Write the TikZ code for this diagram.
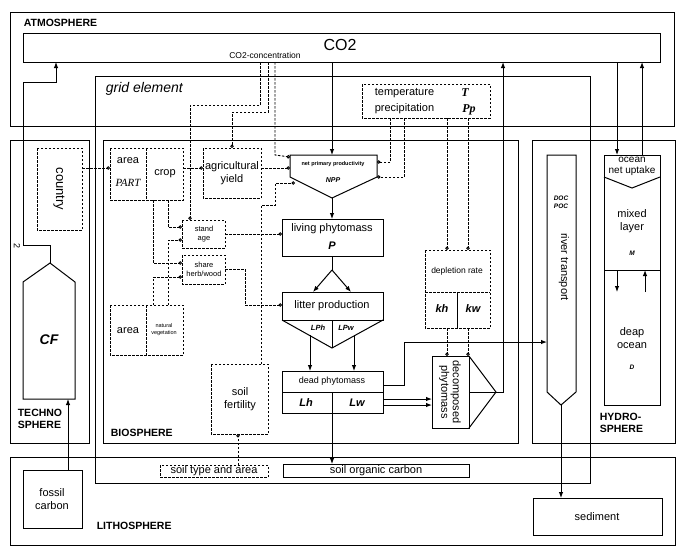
\documentclass[tikz,border=0pt]{standalone}
\usepackage{fontspec}
\setmainfont{Liberation Sans}
\newfontfamily\serifit{Liberation Serif}
\usetikzlibrary{arrows.meta}
\begin{document}
\begin{tikzpicture}[x=1pt,y=-1pt,line width=1pt,
  box/.style={draw},
  dbox/.style={draw,dashed,dash pattern=on 2.5pt off 1.5pt},
  dl/.style={dashed,dash pattern=on 2.5pt off 1.5pt,line width=0.9pt,-{Circle[open,length=3.5pt]}},
  ar/.style={-{Latex[length=6pt]}},
  hd/.style={font=\bfseries\fontsize{10.5}{12}\selectfont,anchor=west,align=left},
  t/.style={font=\fontsize{11}{13}\selectfont,align=center},
  ts/.style={font=\fontsize{7.5}{9}\selectfont,align=center},
  tb/.style={font=\bfseries\itshape\fontsize{8}{9}\selectfont}]
\useasboundingbox (0,0) rectangle (685,550);
% spheres
\draw (10,12) rectangle (674,126);
\node[hd] (atm) at (20,23) {ATMOSPHERE};
\draw (10,140) rectangle (89,443);
\draw (103,140) rectangle (518,443);
\draw (532,140) rectangle (675,443);
\draw (10,457) rectangle (675,545);
\draw (95,76) rectangle (590,483);
\node[font=\itshape\fontsize{14}{15}\selectfont,anchor=west] (ge) at (102,89) {grid element};
\node[hd] (tech) at (14,419) {TECHNO\\SPHERE};
\node[hd] (bio) at (107,433) {BIOSPHERE};
\node[hd] (hyd) at (596,423) {HYDRO-\\SPHERE};
\node[hd] (lith) at (93,526) {LITHOSPHERE};
% CO2
\draw (23,33) rectangle (660,62);
\node[font=\fontsize{16}{17}\selectfont] (co2) at (340,45) {CO2};
\node[font=\fontsize{8.5}{9}\selectfont] (co2c) at (265,55) {CO2-concentration};
\coordinate (co2b) at (332,62);
% techno
\draw[dbox] (37,148) rectangle (82,230);
\node[rotate=-90,font=\fontsize{13}{14}\selectfont] (country) at (59,189) {country};
\draw (23,282) -- (50,263) -- (75,282) -- (75,399) -- (23,399) -- cycle;
\node[font=\bfseries\itshape\fontsize{14}{15}\selectfont] (cf) at (49,340) {CF};
\draw (23,470) rectangle (82,528);
\node[t] (fossil) at (52,499) {fossil\\carbon};
\draw[ar] (68,470) -- (68,399);
\draw[ar] (50,263) -- (50,245) -- (23,245) -- (23,82) -- (56,82) -- (56,62);
\node[rotate=-90,font=\fontsize{9}{9}\selectfont] (two) at (17,246) {2};
% area crop
\draw[dbox] (110,148) rectangle (183,200);
\draw[dash pattern=on 2.5pt off 1.5pt,line width=0.9pt] (146,148) -- (146,200);
\node[t] (area1) at (128,161) {area};
\node[font=\serifit\itshape\fontsize{11}{12}\selectfont] (part) at (128,183) {PART};
\node[t] (crop) at (165,174) {crop};
\draw[dl] (82,168) -- (110,168);
% agricultural yield
\draw[dbox] (203,148) rectangle (261,198);
\node[t] (agri) at (232,173) {agricultural\\yield};
\draw[dl] (183,168) -- (203,168);
% NPP
\draw (290,155) -- (377,155) -- (377,177) -- (332,198) -- (290,177) -- cycle;
\node[font=\bfseries\fontsize{5.5}{6}\selectfont] (npp1) at (333,164) {net primary productivity};
\node[font=\bfseries\itshape\fontsize{7}{8}\selectfont] (npp) at (333,180) {NPP};
\draw[ar] (co2b) -- (332,155);
% living
\draw (282,219) rectangle (383,256);
\node[t] (liv) at (332,229) {living phytomass};
\node[font=\bfseries\itshape\fontsize{11}{12}\selectfont] (P) at (332,246) {P};
\draw[ar] (332,198) -- (332,219);
% litter
\draw (282,292) rectangle (383,320);
\draw (282,320) -- (332,348) -- (383,320);
\draw (332,320) -- (332,348);
\node[t] (lit) at (332,306) {litter production};
\node[font=\bfseries\itshape\fontsize{7.5}{8}\selectfont] (lph) at (318,328) {LPh};
\node[font=\bfseries\itshape\fontsize{7.5}{8}\selectfont] (lpw) at (346,328) {LPw};
\draw (332,256) -- (332,270);
\draw[ar] (332,270) -- (313,292);
\draw[ar] (332,270) -- (351,292);
% dead
\draw (282,371) rectangle (383,413);
\draw (282,392) -- (383,392);
\draw (332,392) -- (332,413);
\node[font=\fontsize{9}{10}\selectfont] (dead) at (332,381) {dead phytomass};
\node[font=\bfseries\itshape\fontsize{11}{12}\selectfont] (lh) at (306,403) {Lh};
\node[font=\bfseries\itshape\fontsize{11}{12}\selectfont] (lw) at (357,403) {Lw};
\draw[ar] (310,335) -- (310,371);
\draw[ar] (354,335) -- (354,371);
% soil
\draw[dbox] (160,465) rectangle (268,477);
\node[t] (stype) at (214,471) {soil type and area};
\draw (283,464) rectangle (469,477);
\node[t] (soc) at (376,470.5) {soil organic carbon};
\draw[ar] (332,392) -- (332,464);
\draw[dbox] (211,364) rectangle (268,434);
\node[t] (sfert) at (240,399) {soil\\fertility};
\draw[dl] (238,465) -- (238,434);
% stand age, share, natural
\draw[dbox] (182,220) rectangle (225,248);
\node[ts] (stand) at (204,234) {stand\\age};
\draw[dbox] (182,255) rectangle (225,284);
\node[ts] (share) at (204,269) {share\\herb/wood};
\draw[dbox] (110,305) rectangle (183,355);
\draw[dash pattern=on 2.5pt off 1.5pt,line width=0.9pt] (146,305) -- (146,355);
\node[t] (area2) at (128,331) {area};
\node[font=\fontsize{5.5}{7}\selectfont,align=center] (nat) at (164,330) {natural\\vegetation};
\draw[dl] (168,200) |- (182,227);
\draw[dl] (153,200) |- (182,263);
\draw[dl] (168,305) |- (182,240);
\draw[dl] (153,305) |- (182,277);
\draw[dl] (225,234) -- (282,234);
\draw[dl] (225,269) -- (245,269) -- (245,305) -- (282,305);
% CO2 concentration links
\draw[dl] (260,62) -- (260,105) -- (190,105) -- (190,220);
\draw[dl] (268,62) -- (268,112) -- (232,112) -- (232,148);
\draw[dl] (275,62) -- (275,155) -- (290,157);
\draw[dl] (261,168) -- (290,168);
\draw[dl] (261,364) -- (261,205) -- (275,205) -- (275,183) -- (295,183);
% temperature
\draw[dbox] (362,84) rectangle (490,118);
\node[t,anchor=west] (temp) at (371,93) {temperature};
\node[t,anchor=west] (prec) at (371,109) {precipitation};
\node[font=\serifit\bfseries\itshape\fontsize{12}{13}\selectfont] (T) at (465,93) {T};
\node[font=\serifit\bfseries\itshape\fontsize{12}{13}\selectfont] (Pp) at (469,110) {Pp};
\draw[dl] (390,118) -- (390,162) -- (377,162);
\draw[dl] (404,118) -- (404,177) -- (377,177);
\draw[dl] (447,118) -- (447,250);
\draw[dl] (468,118) -- (468,250);
% depletion
\draw[dbox] (425,250) rectangle (490,328);
\draw[dash pattern=on 2.5pt off 1.5pt,line width=0.9pt] (425,292) -- (490,292);
\draw (457,292) -- (457,328);
\node[font=\fontsize{8.5}{9}\selectfont] (dep) at (457,271) {depletion rate};
\node[font=\bfseries\itshape\fontsize{11}{12}\selectfont] (kh) at (442,309) {kh};
\node[font=\bfseries\itshape\fontsize{11}{12}\selectfont] (kw) at (473,309) {kw};
\draw[dl] (447,328) -- (447,356);
\draw[dl] (468,328) -- (468,356);
% decomposed
\draw (432,356) rectangle (469,428);
\draw (469,356) -- (496,392) -- (469,428);
\node[rotate=-90,font=\fontsize{11}{11.5}\selectfont,align=center] (dec) at (450,392) {decomposed\\phytomass};
\draw[ar] (469,392) -- (503,392) -- (503,62);
\draw[ar] (383,399) -- (432,399);
\draw[ar] (383,405) -- (432,405);
% river
\draw (547,155) -- (576,155) -- (576,392) -- (561,405) -- (547,392) -- cycle;
\node[font=\bfseries\itshape\fontsize{6.5}{8}\selectfont,align=center] (doc) at (561,202) {DOC\\POC};
\node[t,rotate=-90] (river) at (564,267) {river transport};
\draw[ar] (383,385) -- (404,385) -- (404,342) -- (547,342);
\draw (533,498) rectangle (662,535);
\node[t] (sed) at (597,517) {sediment};
\draw[ar] (561,405) -- (561,498);
% ocean
\draw (604,155) rectangle (660,405);
\draw (604,177) -- (632,188) -- (660,177);
\draw (604,270) -- (660,270);
\node[t,font=\fontsize{10}{11}\selectfont] (onu) at (632,166) {ocean\\net uptake};
\node[t] (mix) at (632,221) {mixed\\layer};
\node[font=\bfseries\itshape\fontsize{6.5}{7}\selectfont] (M) at (632,253) {M};
\node[t] (deep) at (632,338) {deap\\ocean};
\node[font=\bfseries\itshape\fontsize{6.5}{7}\selectfont] (D) at (632,367) {D};
\draw[ar] (617,270) -- (617,292);
\draw[ar] (645,292) -- (645,270);
\draw[ar] (617,62) -- (617,155);
\draw[ar] (642,155) -- (642,62);
\end{tikzpicture}
\end{document}
